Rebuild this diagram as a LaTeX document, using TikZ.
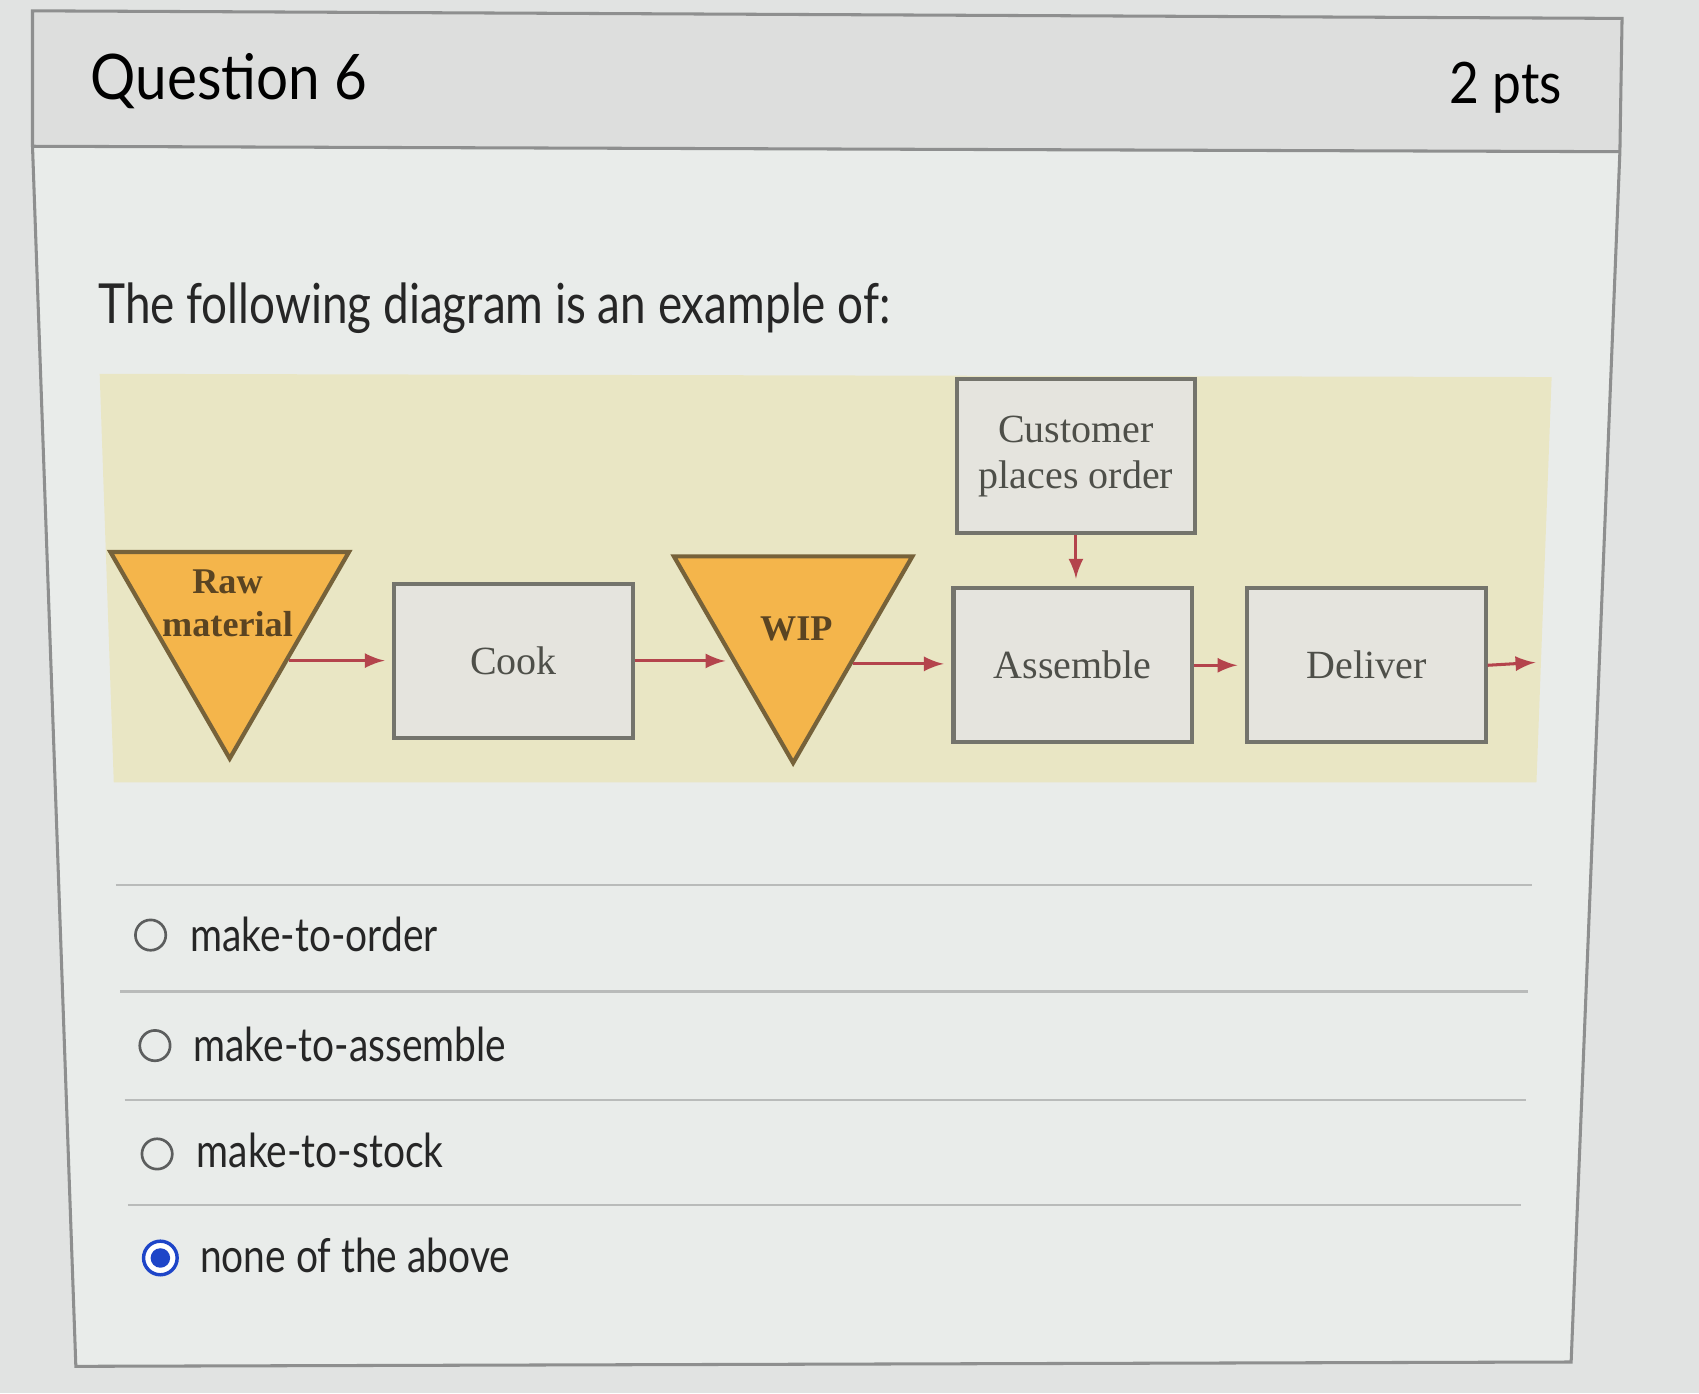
\documentclass[tikz,border=0pt]{standalone}
\usepackage{fontspec}
\setmainfont{Lato}[FakeStretch=0.83]
\newfontfamily\headfont{Lato}[FakeStretch=0.9]
\newfontfamily\figfont{Liberation Serif}
\usetikzlibrary{shapes.geometric,calc}
\definecolor{pagebg}{HTML}{E1E3E2}
\definecolor{headbg}{HTML}{DDDEDD}
\definecolor{bodybg}{HTML}{E9ECEA}
\definecolor{frameline}{HTML}{8E8F8F}
\definecolor{sepline}{HTML}{B9BBBA}
\definecolor{figbg}{HTML}{E9E6C4}
\definecolor{boxfill}{HTML}{E5E4DE}
\definecolor{boxline}{HTML}{74746C}
\definecolor{trifill}{HTML}{F4B54B}
\definecolor{triline}{HTML}{76623A}
\definecolor{flowred}{HTML}{B4444C}
\definecolor{figtext}{HTML}{4E4F49}
\definecolor{rawtext}{HTML}{5A4422}
\definecolor{radioblue}{HTML}{1E45C8}
\definecolor{radioline}{HTML}{5C5E5E}
\tikzstyle{procbox}=[draw=boxline,fill=boxfill,line width=1.1pt,minimum width=2.2cm,minimum height=1.42cm,inner sep=0pt,align=center,text=figtext,font=\figfont\fontsize{10.5}{12}\selectfont]
\tikzstyle{stock}=[draw=triline,fill=trifill,line width=1.1pt,regular polygon,regular polygon sides=3,shape border rotate=180,minimum size=2.54cm,inner sep=0pt]
\tikzstyle{stocktext}=[align=center,text=rawtext,font=\figfont\bfseries\fontsize{9.5}{11.4}\selectfont]
\tikzstyle{flow}=[draw=flowred,line width=0.8pt,-latex,shorten >=2pt]
\tikzstyle{radio}=[circle,draw=radioline,line width=0.7pt,fill=bodybg,minimum size=0.28cm,inner sep=0pt]
\tikzstyle{answer}=[anchor=west,inner sep=0pt,text=black!85,font=\fontsize{12.3}{15}\selectfont]

\begin{document}
\begin{tikzpicture}[x=0.01cm,y=-0.01cm]
\useasboundingbox (0,0) rectangle (1568,1286);
\fill[pagebg] (0,0) rectangle (1568,1286);
% question frame
\fill[headbg] (30,10) -- (1497,17) -- (1495,140) -- (30,135) -- cycle;
\fill[bodybg] (30,135) -- (1495,140) -- (1450,1257) -- (70,1261) -- cycle;
\draw[frameline,line width=0.8pt] (30,10) -- (1497,17) -- (1495,140) -- (1450,1257) -- (70,1261) -- (30,135) -- cycle;
\draw[frameline,line width=0.8pt] (30,135) -- (1495,140);
\node[anchor=west,inner sep=0pt,font=\headfont\fontsize{16.5}{20}\selectfont] (qtitle) at (83,75) {Question 6};
\node[anchor=east,inner sep=0pt,font=\headfont\fontsize{15}{18}\selectfont] (qpts) at (1442,81) {2 pts};
\node[anchor=west,inner sep=0pt,text=black!85,font=\fontsize{14.5}{18}\selectfont] (prompt) at (90,284) {The following diagram is an example of:};
% process figure
\fill[figbg] (92,345) -- (1432,348) -- (1418,722) -- (105,722) -- cycle;
\node[stock] (raw) at (212,573) {};
\node[stocktext] (rawlabel) at ($(raw)+(-2,-16)$) {Raw\\material};
\node[procbox] (cook) at (474,610) {Cook};
\node[stock] (wip) at (732,577) {};
\node[stocktext] (wiplabel) at ($(wip)+(3,3)$) {WIP};
\node[procbox] (customer) at (993,421) {Customer\\places order};
\node[procbox] (assemble) at (990,614) {Assemble};
\node[procbox] (deliver) at (1261,614) {Deliver};
\coordinate (outend) at (1424,611);
\draw[flow] (raw.-34) -- (raw.-34 -| cook.west);
\draw[flow] (cook.east) -- (cook.east -| wip.212);
\draw[flow] (wip.-33) -- (wip.-33 -| assemble.west);
\draw[flow] (customer.south) -- (customer.south |- assemble.north);
\draw[flow] (assemble) -- (deliver);
\draw[flow] (deliver.east) -- (outend);
% answers
\draw[sepline,line width=0.6pt] (107,817) -- (1414,817);
\draw[sepline,line width=0.6pt] (111,915) -- (1410,915);
\draw[sepline,line width=0.6pt] (115,1015) -- (1408,1015);
\draw[sepline,line width=0.6pt] (118,1112) -- (1404,1112);
\node[radio] (opt1) at (139,863) {};
\node[answer] (ans1) at (175,862) {make-to-order};
\node[radio] (opt2) at (143,965) {};
\node[answer] (ans2) at (178,964) {make-to-assemble};
\node[radio] (opt3) at (145,1065) {};
\node[answer] (ans3) at (181,1062) {make-to-stock};
\node[radio,draw=radioblue,fill=white,line width=0.9pt,minimum size=0.31cm] (opt4) at (148,1161) {};
\fill[radioblue] (opt4) circle (9);
\node[answer] (ans4) at (184,1159) {none of the above};
\end{tikzpicture}
\end{document}
